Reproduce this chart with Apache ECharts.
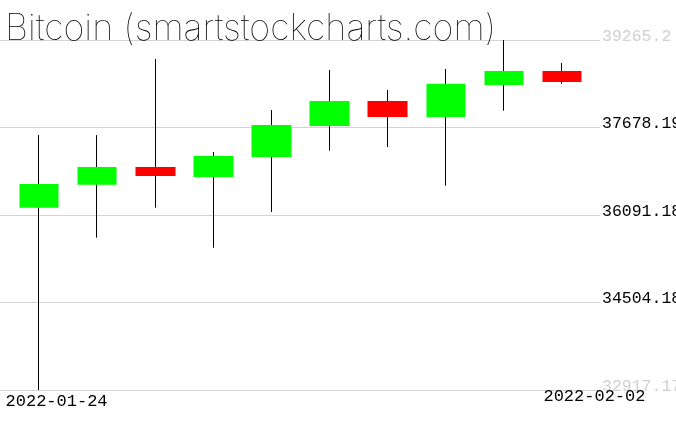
<!DOCTYPE html>
<html>
<head>
<meta charset="utf-8">
<script src="https://cdn.jsdelivr.net/npm/echarts@6/dist/echarts.min.js"></script>
<style>
html,body{margin:0;padding:0;background:#fff;}
#chart{width:676px;height:431px;}
</style>
</head>
<body>
<div id="chart"></div>
<script>
const titleText = 'Bitcoin (smartstockcharts.com)';
const dates = ['2022-01-24','2022-01-25','2022-01-26','2022-01-27','2022-01-28','2022-01-29','2022-01-30','2022-01-31','2022-02-01','2022-02-02'];
const openP  = [36224, 36640, 36962, 36780, 37143, 37705, 38159, 37869, 38449, 38703];
const closeP = [36653, 36962, 36799, 37161, 37724, 38159, 37869, 38473, 38703, 38503];
const lowP   = [32917.17, 35680, 36224, 35498, 36146, 37257, 37325, 36623, 37983, 38470];
const highP  = [37542, 37540, 38921, 37234, 37996, 38721, 38358, 38739, 39265.2, 38848];
const yTickLabels = ['32917.17','34504.18','36091.18','37678.19','39265.2'];
const yMin = 32917.17;
const yMax = 39265.2;

const wickData = dates.map((d, i) => [openP[i], closeP[i], lowP[i], highP[i]]);
const bodyData = dates.map((d, i) => [openP[i], closeP[i], Math.min(openP[i], closeP[i]), Math.max(openP[i], closeP[i])]);

const chart = echarts.init(document.getElementById('chart'), null, {renderer: 'canvas'});
const monoFont = '"Liberation Mono", "DejaVu Sans Mono", monospace';

chart.setOption({
  animation: false,
  backgroundColor: '#ffffff',
  title: {
    text: titleText,
    left: 0,
    top: 6,
    textStyle: {
      fontFamily: 'Inter, "DejaVu Sans", sans-serif',
      fontWeight: 100,
      fontSize: 36,
      color: '#000'
    }
  },
  grid: [
    {left: 0, right: 76, top: 40, bottom: 41, outerBoundsMode: 'none', containLabel: false},
    {left: 10, right: 85, top: 40, bottom: 41, outerBoundsMode: 'none', containLabel: false}
  ],
  xAxis: [
    {type: 'value', gridIndex: 0, min: 0, max: 1, show: false},
    {
      type: 'category', gridIndex: 1, data: dates, boundaryGap: true,
      axisLine: {show: false}, axisTick: {show: false}, splitLine: {show: false},
      axisLabel: {
        interval: 0,
        margin: -2,
        fontFamily: monoFont,
        fontSize: 17,
        color: '#000',
        formatter: function (v, i) {
          if (i === 0) return '{f|' + v + '}';
          if (i === dates.length - 1) return '{l|' + v + '}';
          return '';
        },
        rich: {
          f: {fontFamily: monoFont, fontSize: 17, color: '#000', padding: [5, 0, 0, 35]},
          l: {fontFamily: monoFont, fontSize: 17, color: '#000', padding: [0, 0, 0, 65]}
        }
      }
    }
  ],
  yAxis: [
    {
      type: 'value', gridIndex: 0, min: 0, max: yTickLabels.length - 1, interval: 1,
      position: 'right',
      axisLine: {show: false}, axisTick: {show: false},
      splitLine: {show: true, lineStyle: {color: '#d3d3d3', width: 1}},
      axisLabel: {
        margin: 2,
        fontFamily: monoFont,
        fontSize: 16.5,
        verticalAlign: 'middle',
        formatter: function (v) {
          const idx = Math.round(v);
          const txt = yTickLabels[idx];
          return (idx === 0 || idx === yTickLabels.length - 1) ? '{g|' + txt + '}' : '{k|' + txt + '}';
        },
        rich: {
          g: {fontFamily: monoFont, fontSize: 16.5, color: '#d0d0d0', padding: [0, 0, 7, 0]},
          k: {fontFamily: monoFont, fontSize: 16.5, color: '#000', padding: [0, 0, 7, 0]}
        }
      }
    },
    {type: 'value', gridIndex: 1, min: yMin, max: yMax, show: false}
  ],
  series: [
    {
      name: 'wick', type: 'candlestick', xAxisIndex: 1, yAxisIndex: 1,
      data: wickData, barWidth: 1,
      itemStyle: {color: '#000', color0: '#000', borderColor: '#000', borderColor0: '#000', borderWidth: 1},
      emphasis: {disabled: true}
    },
    {
      name: 'body', type: 'candlestick', xAxisIndex: 1, yAxisIndex: 1,
      data: bodyData, barWidth: 40,
      itemStyle: {color: '#00ff00', color0: '#ff0000', borderColor: '#00ff00', borderColor0: '#ff0000', borderWidth: 0},
      emphasis: {disabled: true}
    }
  ]
});
</script>
</body>
</html>
